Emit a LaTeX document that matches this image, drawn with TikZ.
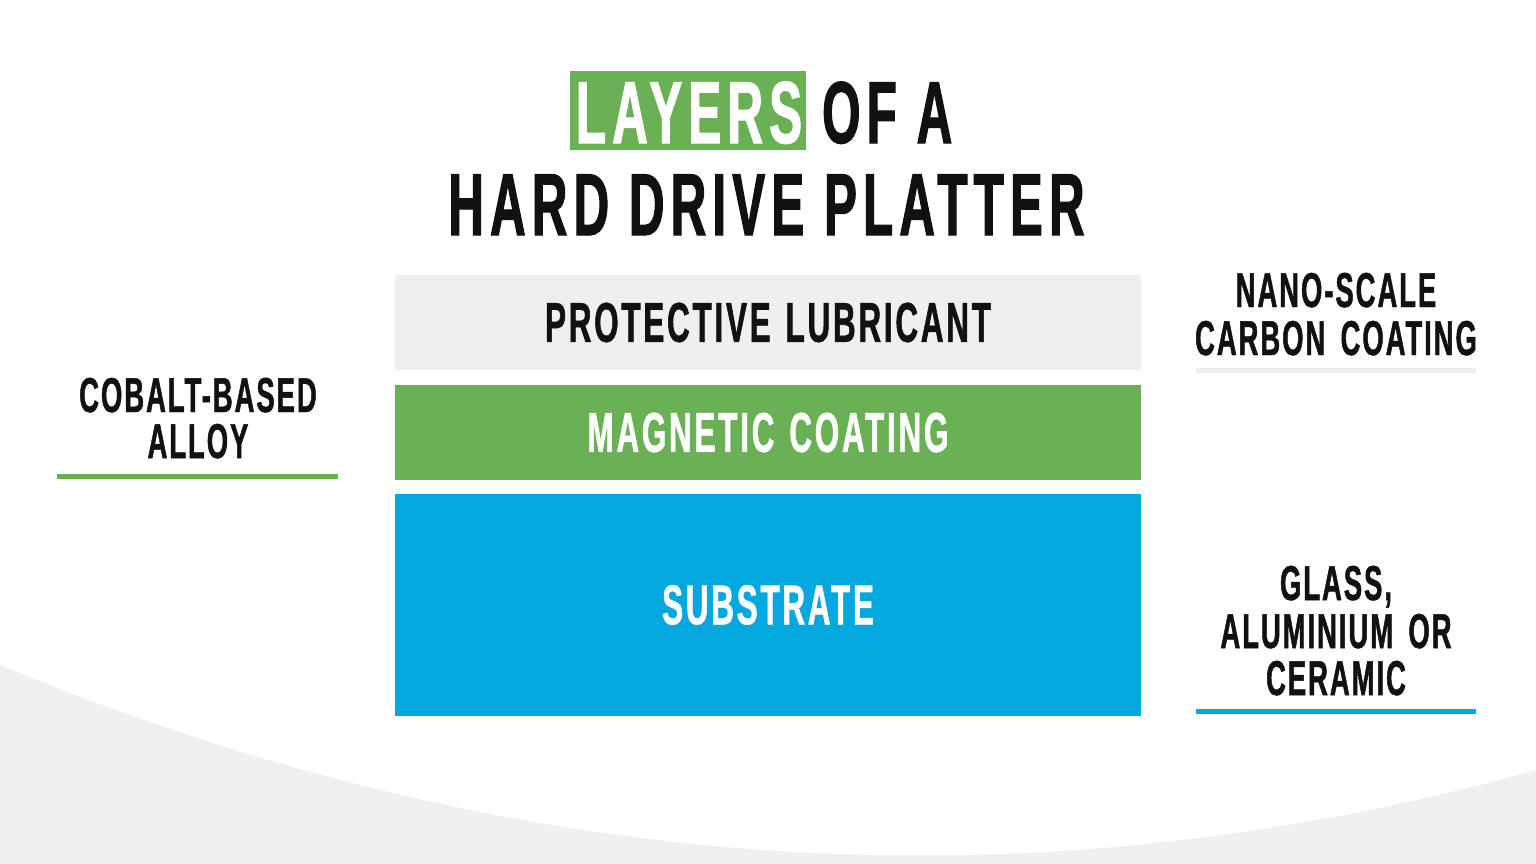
\documentclass[tikz,border=0pt]{standalone}
\usepackage{fontspec}
\newfontfamily\osw{Liberation Sans}[FakeStretch=0.56,LetterSpace=4,WordSpace=1.6,BoldFeatures={FakeBold=1}]
\newfontfamily\oswl{Liberation Sans}[FakeStretch=0.56,LetterSpace=5,WordSpace=1.3,BoldFeatures={FakeBold=1}]
\newfontfamily\oswt{Liberation Sans}[FakeStretch=0.56,LetterSpace=7,BoldFeatures={FakeBold=1.2}]
\definecolor{bggray}{HTML}{F0F0F0}
\definecolor{lubgray}{HTML}{EFEFEF}
\definecolor{mgreen}{HTML}{6AB155}
\definecolor{sblue}{HTML}{03A8DF}
\definecolor{ink}{HTML}{111111}
\tikzset{
  lbl/.style={inner sep=0pt, anchor=base, text=ink, font=\osw\bfseries\fontsize{49}{49}\selectfont},
  ttl/.style={inner sep=0pt, anchor=base, text=ink, font=\oswt\bfseries\fontsize{88}{88}\selectfont},
  layer/.style={inner sep=0pt, minimum width=746pt, font=\oswl\bfseries\fontsize{56}{56}\selectfont},
}
\begin{document}
\begin{tikzpicture}[x=1pt,y=-1pt]
\useasboundingbox (0,0) rectangle (1536,864);
% background
\fill[bggray] (0,0) rectangle (1536,864);
\fill[white] (0,0) -- (0,665) .. controls (512,877) and (1024,912) .. (1536,770) -- (1536,0) -- cycle;
% title
\fill[mgreen] (570,71) rectangle (806,150);
\node[ttl, text=white] (t1) at (689,143) {LAYERS};
\node[ttl, anchor=base west] (t2) at (822,143) {OF A};
\node[ttl] (t3) at (766.5,235) {HARD DRIVE PLATTER};
% layers
\node[layer, fill=lubgray, text=ink, minimum height=95pt] (lub) at (768,322.5) {PROTECTIVE LUBRICANT};
\node[layer, fill=mgreen, text=white, minimum height=95pt] (mag) at (768,432.5) {MAGNETIC COATING};
\node[layer, fill=sblue, text=white, minimum height=222pt] (sub) at (768,605) {SUBSTRATE};
% left label
\node[lbl] (c1) at (198,412) {COBALT-BASED};
\node[lbl] (c2) at (198,458) {ALLOY};
\fill[mgreen] (57,474) rectangle (338,479);
% right top label
\node[lbl] (n1) at (1336,307) {NANO-SCALE};
\node[lbl] (n2) at (1336,355) {CARBON COATING};
\fill[lubgray] (1196,368) rectangle (1476,373);
% right bottom label
\node[lbl] (g1) at (1336,600) {GLASS,};
\node[lbl] (g2) at (1336,648) {ALUMINIUM OR};
\node[lbl] (g3) at (1336,695) {CERAMIC};
\fill[sblue] (1196,709) rectangle (1476,714);
\end{tikzpicture}
\end{document}
